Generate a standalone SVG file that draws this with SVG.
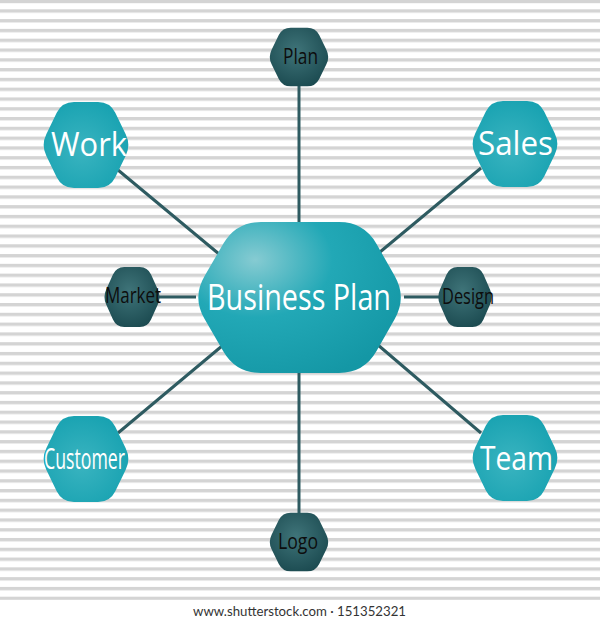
<svg xmlns="http://www.w3.org/2000/svg" xmlns:xlink="http://www.w3.org/1999/xlink" width="600" height="620" viewBox="0 0 600 620">
<defs>
<pattern id="stripes" x="0" y="9.3" width="600" height="9.79" patternUnits="userSpaceOnUse">
<rect x="0" y="0" width="600" height="3.4" fill="#d4d4d4"/>
</pattern>
<radialGradient id="gCenter" cx="0.28" cy="0.25" r="0.85">
<stop offset="0" stop-color="#86cbd2"/>
<stop offset="0.45" stop-color="#22a8b6"/>
<stop offset="1" stop-color="#1497a5"/>
</radialGradient>
<radialGradient id="gCyan" cx="0.45" cy="0.55" r="0.6">
<stop offset="0" stop-color="#3ab4c0"/>
<stop offset="1" stop-color="#18a2b1"/>
</radialGradient>
<radialGradient id="gDark" cx="0.45" cy="0.4" r="0.65">
<stop offset="0" stop-color="#3f7479"/>
<stop offset="1" stop-color="#1b4a50"/>
</radialGradient>
<path id="hex" d="M -12,-43 L 12,-43 Q 24,-43 29.3,-32.2 L 39.7,-10.8 Q 45,0 39.7,10.8 L 29.3,32.2 Q 24,43 12,43 L -12,43 Q -24,43 -29.3,32.2 L -39.7,10.8 Q -45,0 -39.7,-10.8 L -29.3,-32.2 Q -24,-43 -12,-43 Z"/>
</defs>
<style>
.conn { stroke:#2e5b61; stroke-width:3; fill:none; }
.cyan { fill:url(#gCyan); }
.dark { fill:url(#gDark); }
.lw { font-family:"Open Sans","Liberation Sans",sans-serif; fill:#ffffff; text-anchor:start; }
.ld { font-family:"Open Sans","Liberation Sans",sans-serif; fill:#0d0d0d; text-anchor:start; }
</style>
<rect x="0" y="0" width="600" height="620" fill="#ffffff"/>
<rect x="0" y="0" width="600" height="600" fill="url(#stripes)"/>
<rect x="0" y="0" width="600" height="3" fill="#d4d4d4"/>
<g id="connectors">
<line class="conn" x1="299" y1="85" x2="299" y2="224"/>
<line class="conn" x1="299" y1="371" x2="299" y2="514"/>
<line class="conn" x1="118" y1="170" x2="219" y2="254"/>
<line class="conn" x1="481" y1="168" x2="380" y2="252"/>
<line class="conn" x1="118" y1="433" x2="222" y2="346"/>
<line class="conn" x1="481" y1="433" x2="378" y2="345"/>
<line class="conn" x1="158" y1="297" x2="196" y2="297"/>
<line class="conn" x1="404" y1="297" x2="440" y2="297"/>
</g>
<g id="center">
<path d="M261,222 L339,222 Q364,222 376.4,243.7 L394.6,275.8 Q407,297.5 394.6,319.2 L376.4,351.3 Q364,373 339,373 L261,373 Q236,373 223.4,351.4 L204.6,319.1 Q192,297.5 204.6,275.9 L223.4,243.6 Q236,222 261,222 Z" fill="url(#gCenter)"/>
<text class="lw" x="207" y="310" font-size="36" textLength="184" lengthAdjust="spacingAndGlyphs">Business Plan</text>
</g>
<g id="work">
<use xlink:href="#hex" class="cyan" transform="translate(86,145)"/>
<text class="lw" x="51" y="156" font-size="32" textLength="76" lengthAdjust="spacingAndGlyphs">Work</text>
</g>
<g id="sales">
<use xlink:href="#hex" class="cyan" transform="translate(515,144)"/>
<text class="lw" x="478" y="155" font-size="32" textLength="75" lengthAdjust="spacingAndGlyphs">Sales</text>
</g>
<g id="customer">
<use xlink:href="#hex" class="cyan" transform="translate(86,459)"/>
<text class="lw" x="44" y="469" font-size="29" textLength="81" lengthAdjust="spacingAndGlyphs">Customer</text>
</g>
<g id="team">
<use xlink:href="#hex" class="cyan" transform="translate(515,458)"/>
<text class="lw" x="480" y="470" font-size="32" textLength="73" lengthAdjust="spacingAndGlyphs">Team</text>
</g>
<g id="plan">
<use xlink:href="#hex" class="dark" transform="translate(299,57) scale(0.69,0.68)"/>
<text class="ld" x="283" y="64" font-size="22" textLength="35" lengthAdjust="spacingAndGlyphs">Plan</text>
</g>
<g id="logo">
<use xlink:href="#hex" class="dark" transform="translate(299,542) scale(0.69,0.68)"/>
<text class="ld" x="278" y="549" font-size="22" textLength="40" lengthAdjust="spacingAndGlyphs">Logo</text>
</g>
<g id="market">
<use xlink:href="#hex" class="dark" transform="translate(132,297) scale(0.65,0.7)"/>
<text class="ld" x="105" y="303" font-size="21" textLength="56" lengthAdjust="spacingAndGlyphs">Market</text>
</g>
<g id="design">
<use xlink:href="#hex" class="dark" transform="translate(465,297) scale(0.63,0.7)"/>
<text class="ld" x="442" y="304" font-size="21" textLength="52" lengthAdjust="spacingAndGlyphs">Design</text>
</g>
<text x="299.5" y="616" font-family="Lato,'Liberation Sans',sans-serif" font-size="14" fill="#333333" text-anchor="middle" textLength="213" lengthAdjust="spacingAndGlyphs">www.shutterstock.com · 151352321</text>
</svg>
